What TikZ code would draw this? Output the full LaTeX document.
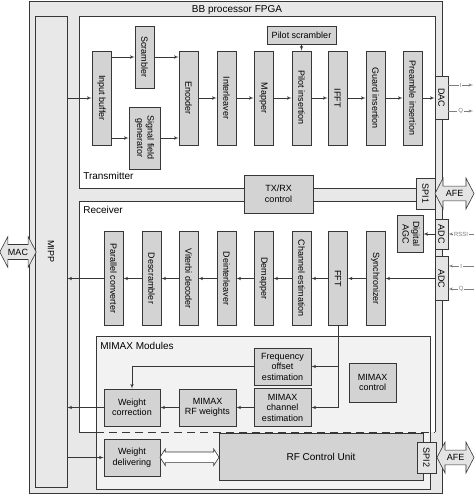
\documentclass[tikz,border=0pt]{standalone}
\usepackage{fontspec}
\setmainfont{Liberation Sans}
\usepackage{graphicx}
\usepackage{tikz}
\usetikzlibrary{arrows, shapes.arrows, calc}

\definecolor{framegray}{RGB}{232,232,232}
\definecolor{modgray}{RGB}{242,242,242}
\definecolor{blkgray}{RGB}{211,211,211}
\definecolor{portgray}{RGB}{228,228,228}
\definecolor{linegray}{RGB}{55,55,55}
\definecolor{siggray}{RGB}{125,125,125}

\newcommand{\vlabel}[1]{\rotatebox{-90}{#1}}
\newcommand{\vlabelii}[2]{\rotatebox{-90}{\begin{tabular}{@{}c@{}}#1\\#2\end{tabular}}}

\begin{document}
\begin{tikzpicture}[x=1pt, y=-1pt,
			>=latex',
			line width=0.6pt,
			font=\fontsize{9}{10.5}\selectfont,
			vblk/.style={draw=linegray, fill=blkgray, inner sep=0pt, minimum width=19pt, minimum height=94pt},
			hblk/.style={draw=linegray, fill=blkgray, inner sep=0pt, minimum width=57pt, minimum height=37pt, align=center},
			port/.style={draw=linegray, fill=portgray, inner sep=0pt, minimum width=13pt},
			spi/.style={draw=linegray, fill=portgray, inner sep=0pt, minimum width=19pt, minimum height=31pt},
			iface/.style={double arrow, draw=linegray, fill=portgray, inner sep=4pt, double arrow head extend=8pt, double arrow tip angle=125},
			sig/.style={draw=siggray, line width=0.5pt},
			siglbl/.style={fill=white, inner sep=1pt, text=siggray, font=\fontsize{6}{7}\selectfont},
			flow/.style={->, draw=linegray},
			lbl/.style={anchor=west, inner sep=0pt, font=\fontsize{10}{12}\selectfont}]

			\useasboundingbox (0,0) rectangle (474,494);

			% frames
			\draw[linegray, fill=framegray, line width=0.8pt] (29,1) rectangle (442,493);
			\node[font=\fontsize{10}{12}\selectfont] (title) at (237,10) {BB processor FPGA};
			\draw[linegray, fill=white] (79,16) rectangle (435,188);
			\node[lbl] (txlbl) at (83,176) {Transmitter};
			\fill[white] (79,201) rectangle (435,432);
			\draw[linegray] (79,432) -- (79,201) -- (435,201) -- (435,432);
			\node[lbl] (rxlbl) at (83,210) {Receiver};
			\draw[linegray, fill=modgray] (96,336) rectangle (430,489);
			\node[lbl] (modlbl) at (100,346) {MIMAX Modules};
			\draw[linegray] (79,432) -- (96,432);
			\draw[linegray, dash pattern=on 8pt off 5pt] (96,432) -- (435,432);

			% MIPP and MAC
			\node[draw=linegray, fill=framegray, inner sep=0pt, minimum width=32pt, minimum height=471pt] (mipp) at (51,251.5) {\vlabel{MIPP}};
			\node[iface, minimum height=34pt] (mac) at (18,252) {MAC};

			% transmitter
			\node[vblk] (inbuf) at (101.5,98) {\vlabel{Input buffer}};
			\node[vblk, minimum height=62pt] (scr) at (144.5,57) {\vlabel{Scrambler}};
			\node[vblk, minimum width=31pt, minimum height=62pt] (sfg) at (144.5,138) {\vlabelii{Signal field}{generator}};
			\node[vblk] (enc) at (188.5,98) {\vlabel{Encoder}};
			\node[vblk] (intl) at (226.5,98) {\vlabel{Interleaver}};
			\node[vblk] (map) at (263.5,98) {\vlabel{Mapper}};
			\node[vblk] (pins) at (301.5,98) {\vlabel{Pilot insertion}};
			\node[vblk] (ifft) at (337.5,98) {\vlabel{IFFT}};
			\node[vblk] (gins) at (375.5,98) {\vlabel{Guard insertion}};
			\node[vblk] (pre) at (412.5,98) {\vlabel{Preamble insertion}};
			\node[hblk, minimum width=69pt, minimum height=18pt] (psc) at (301.5,35) {Pilot scrambler};
			\node[port, minimum height=43pt] (dac) at (441.5,98) {\vlabel{DAC}};

			\draw[flow] (mipp.east |- inbuf.west) -- (inbuf.west);
			\draw[flow] (inbuf.east |- scr.west) -- (scr.west);
			\draw[flow] (inbuf.east |- sfg.west) -- (sfg.west);
			\draw[flow] (scr.east) -- (scr.east -| enc.west);
			\draw[flow] (sfg.east) -- (sfg.east -| enc.west);
			\foreach \a/\b in {enc/intl, intl/map, map/pins, pins/ifft, ifft/gins, gins/pre, pre/dac}
				\draw[flow] (\a) -- (\b);
			\draw[flow] (psc) -- (pins);

			\coordinate (dacI) at (473,85);
			\coordinate (dacQ) at (473,111);
			\draw[sig, ->] (dacI -| dac.east) -- node[siglbl] (dacIlbl) {I} (dacI);
			\draw[sig, ->] (dacQ -| dac.east) -- node[siglbl] (dacQlbl) {Q} (dacQ);

			% TX/RX control
			\node[hblk, minimum width=69pt, minimum height=38pt] (txrx) at (278.5,194) {TX/RX\\control};
			\node[spi] (spi1) at (425.5,193.5) {\vlabel{SPI1}};
			\node[iface, minimum height=39pt] (afe1) at (454.5,193.5) {AFE};

			% receiver
			\node[vblk] (sync) at (375.5,278.5) {\vlabel{Synchronizer}};
			\node[vblk] (fft) at (338,278.5) {\vlabel{FFT}};
			\node[vblk] (chest) at (301.5,278.5) {\vlabel{Channel estimation}};
			\node[vblk] (demap) at (263.5,278.5) {\vlabel{Demapper}};
			\node[vblk] (dintl) at (226.5,278.5) {\vlabel{Deinterleaver}};
			\node[vblk] (vit) at (188.5,278.5) {\vlabel{Viterbi decoder}};
			\node[vblk] (descr) at (151.5,278.5) {\vlabel{Descrambler}};
			\node[vblk] (parc) at (113.5,278.5) {\vlabel{Parallel converter}};
			\node[port, minimum height=30pt] (adc1) at (441.5,234) {\vlabel{ADC}};
			\node[port, minimum height=44pt] (adc2) at (441.5,278.5) {\vlabel{ADC}};
			\node[hblk, minimum width=26pt, minimum height=37pt] (agc) at (410,234) {\vlabelii{Digital}{AGC}};

			\foreach \a/\b in {adc2/sync, sync/fft, fft/chest, chest/demap, demap/dintl, dintl/vit, vit/descr, descr/parc}
				\draw[flow] (\a) -- (\b);
			\draw[flow] (parc.west) -- (parc.west -| mipp.east);
			\draw[flow] (adc1) -- (agc);

			\coordinate (rssiin) at (474,234);
			\coordinate (adcI) at (474,266);
			\coordinate (adcQ) at (474,289);
			\draw[sig, ->] (rssiin) -- node[siglbl] (rssilbl) {RSSI} (adc1.east);
			\draw[sig, ->] (adcI) -- node[siglbl] (adcIlbl) {I} (adcI -| adc2.east);
			\draw[sig, ->] (adcQ) -- node[siglbl] (adcQlbl) {Q} (adcQ -| adc2.east);

			% MIMAX modules
			\node[hblk] (foe) at (282.5,366.5) {Frequency\\offset\\estimation};
			\node[hblk, minimum height=38pt] (mce) at (282.5,407.5) {MIMAX\\channel\\estimation};
			\node[hblk, minimum width=47pt, minimum height=39pt] (mctl) at (372.5,382.5) {MIMAX\\control};
			\node[hblk] (rfw) at (207.5,407.5) {MIMAX\\RF weights};
			\node[hblk, minimum width=56pt] (wcor) at (132,407.5) {Weight\\correction};
			\node[hblk, minimum width=56pt] (wdel) at (132,457.5) {Weight\\delivering};
			\node[hblk, minimum width=204pt, minimum height=47pt, font=\fontsize{10}{12}\selectfont] (rfcu) at (321,457) {RF Control Unit};
			\node[spi] (spi2) at (426.5,457.5) {\vlabel{SPI2}};
			\node[iface, minimum height=37pt] (afe2) at (455.5,457.5) {AFE};
			\node[double arrow, draw=linegray, fill=white, inner sep=5pt, minimum height=59pt, double arrow head extend=3pt, double arrow tip angle=115] (wdlink) at ($(wdel.east)!0.5!(rfcu.west)$) {};

			\draw[flow] (fft.south) |- (mce.east);
			\draw[flow] (fft.south |- foe.east) -- (foe.east);
			\draw[flow] (mce) -- (rfw);
			\draw[flow] (rfw) -- (wcor);
			\draw[flow] (wcor.west) -- (wcor.west -| mipp.east);
			\draw[flow] (foe.west) -| (wcor.north);
			\draw[flow] (mipp.east |- wdel.west) -- (wdel.west);
		\end{tikzpicture}
\end{document}
